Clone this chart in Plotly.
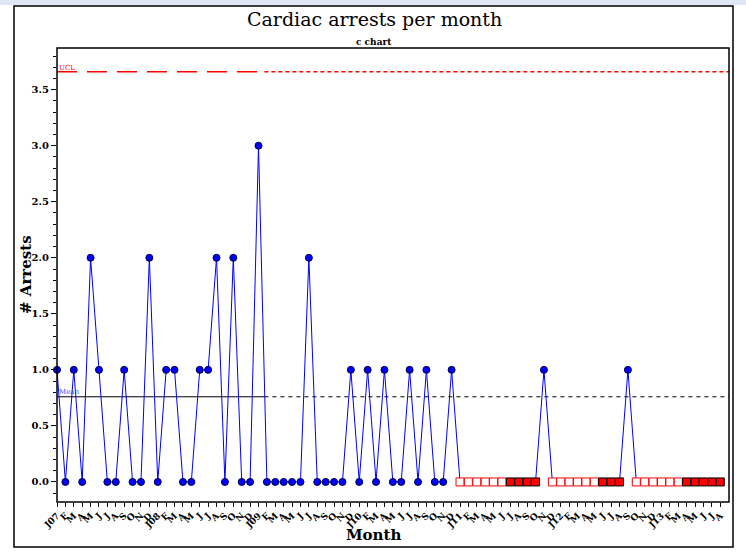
import plotly.graph_objects as go

# ---- data ----
month_letters = ["J", "F", "M", "A", "M", "J", "J", "A", "S", "O", "N", "D"]
year_labels = ["J07", "J08", "J09", "J10", "J11", "J12", "J13"]
arrests = [1, 0, 1, 0, 2, 1, 0, 0, 1, 0, 0, 2, 0, 1, 1, 0, 0, 1, 1, 2, 0, 2, 0, 0,
           3, 0, 0, 0, 0, 0, 2, 0, 0, 0, 0, 1, 0, 1, 0, 1, 0, 0, 1, 0, 1, 0, 0, 1,
           0, 0, 0, 0, 0, 0, 0, 0, 0, 0, 1,
           0, 0, 0, 0, 0, 0, 0, 0, 0, 1,
           0, 0, 0, 0, 0, 0, 0, 0, 0, 0, 0]
# point status from run test: "ok", "run" (part of run), "signal" (run signalled)
status = (["ok"] * 48 + ["run"] * 6 + ["signal"] * 4 + ["ok"]
          + ["run"] * 6 + ["signal"] * 3 + ["ok"]
          + ["run"] * 6 + ["signal"] * 5)
center_line = 0.76
ucl = 3.66
phase_end = 25.7

n = len(arrests)
x = list(range(1, n + 1))
ticktext = []
for i in range(n):
    if i % 12 == 0:
        ticktext.append(year_labels[i // 12])
    else:
        ticktext.append(month_letters[i % 12])

SERIF = "DejaVu Serif"
fig = go.Figure()

x_right = n + 1.04
# control lines
fig.add_trace(go.Scatter(x=[1, phase_end], y=[ucl, ucl], mode="lines",
                         line=dict(color="#ff0000", width=1.5, dash="20px,10px"),
                         hoverinfo="skip", showlegend=False))
fig.add_trace(go.Scatter(x=[phase_end, x_right], y=[ucl, ucl], mode="lines",
                         line=dict(color="#ff0000", width=1.5, dash="4px,3px"),
                         hoverinfo="skip", showlegend=False))
fig.add_trace(go.Scatter(x=[1, phase_end], y=[center_line, center_line], mode="lines",
                         line=dict(color="black", width=1),
                         hoverinfo="skip", showlegend=False))
fig.add_trace(go.Scatter(x=[phase_end, x_right], y=[center_line, center_line], mode="lines",
                         line=dict(color="black", width=1, dash="4px,4px"),
                         hoverinfo="skip", showlegend=False))

# data line
fig.add_trace(go.Scatter(x=x, y=arrests, mode="lines",
                         line=dict(color="#0000ff", width=1), showlegend=False,
                         cliponaxis=False))

def pick(kind):
    xs = [x[i] for i in range(n) if status[i] == kind]
    ys = [arrests[i] for i in range(n) if status[i] == kind]
    return xs, ys

xs, ys = pick("ok")
fig.add_trace(go.Scatter(x=xs, y=ys, mode="markers", cliponaxis=False,
                         marker=dict(symbol="circle", size=7, color="#0000ff",
                                     line=dict(color="#000040", width=1)),
                         showlegend=False))
xs, ys = pick("run")
fig.add_trace(go.Scatter(x=xs, y=ys, mode="markers", cliponaxis=False,
                         marker=dict(symbol="square", size=8, color="white",
                                     line=dict(color="#ff0000", width=1)),
                         showlegend=False))
xs, ys = pick("signal")
fig.add_trace(go.Scatter(x=xs, y=ys, mode="markers", cliponaxis=False,
                         marker=dict(symbol="square", size=8, color="#ff0000",
                                     line=dict(color="black", width=1)),
                         showlegend=False))

# plot area geometry (pixels): left 57, right 729, top 48, bottom 502
W, H = 746, 552
L, R, T, B = 57, 729, 48, 502
pw, ph = R - L, B - T

def px(xp):
    return (xp - L) / pw

def py(yp):
    return (B - yp) / ph

shapes = [
    dict(type="rect", xref="paper", yref="paper", x0=px(0), x1=px(746), y0=py(5), y1=py(0),
         fillcolor="#dde7f5", line=dict(width=0), layer="below"),
    dict(type="rect", xref="paper", yref="paper", x0=px(14), x1=px(733), y0=py(547), y1=py(6),
         line=dict(color="black", width=1.5), fillcolor="rgba(0,0,0,0)"),
    dict(type="rect", xref="paper", yref="paper", x0=0, x1=1, y0=0, y1=1,
         line=dict(color="black", width=1.5), fillcolor="rgba(0,0,0,0)"),
]

annotations = [
    dict(text="Cardiac arrests per month", xref="paper", yref="paper", x=px(374), y=py(19),
         showarrow=False, font=dict(family=SERIF, size=19, color="black"),
         xanchor="center", yanchor="middle"),
    dict(text="<b>c chart</b>", xref="paper", yref="paper", x=px(374), y=py(42),
         showarrow=False, font=dict(family=SERIF, size=9, color="black"),
         xanchor="center", yanchor="middle"),
    dict(text="<b># Arrests</b>", xref="paper", yref="paper", x=px(26), y=py(275),
         showarrow=False, textangle=-90, font=dict(family=SERIF, size=15, color="black"),
         xanchor="center", yanchor="middle"),
    dict(text="<b>Month</b>", xref="paper", yref="paper", x=px(373), y=py(535),
         showarrow=False, font=dict(family=SERIF, size=15, color="black"),
         xanchor="center", yanchor="middle"),
    dict(text="UCL", xref="paper", yref="y", x=0.0, y=ucl, xanchor="left", yanchor="bottom",
         showarrow=False, font=dict(family=SERIF, size=7, color="#ff0000"), yshift=-2),
    dict(text="Mean", xref="paper", yref="y", x=0.0, y=center_line, xanchor="left",
         yanchor="bottom", showarrow=False, font=dict(family=SERIF, size=7, color="#3050ff"),
         yshift=-1),
]

fig.update_layout(
    width=W, height=H,
    margin=dict(l=L, r=W - R, t=T, b=H - B),
    paper_bgcolor="white", plot_bgcolor="white",
    shapes=shapes, annotations=annotations,
    xaxis=dict(range=[1, x_right], tickmode="array", tickvals=x, ticktext=ticktext,
               tickangle=-45, ticks="outside", ticklen=4, tickcolor="black",
               showgrid=False, zeroline=False, showline=False, automargin=False,
               tickfont=dict(family=SERIF, size=9, color="black", weight="bold")),
    yaxis=dict(range=[-0.179, 3.872], tickmode="linear", tick0=0, dtick=0.5,
               tickformat=".1f", ticks="outside", ticklen=5, tickcolor="black",
               minor=dict(dtick=0.1, ticks="outside", ticklen=3, tickcolor="black"),
               showgrid=False, zeroline=False, showline=False, automargin=False,
               tickfont=dict(family=SERIF, size=10, color="black", weight="bold")),
)

fig.write_html("out.html", config={"displayModeBar": False},
               post_script="document.body.style.margin='0';document.body.style.overflow='hidden';")
